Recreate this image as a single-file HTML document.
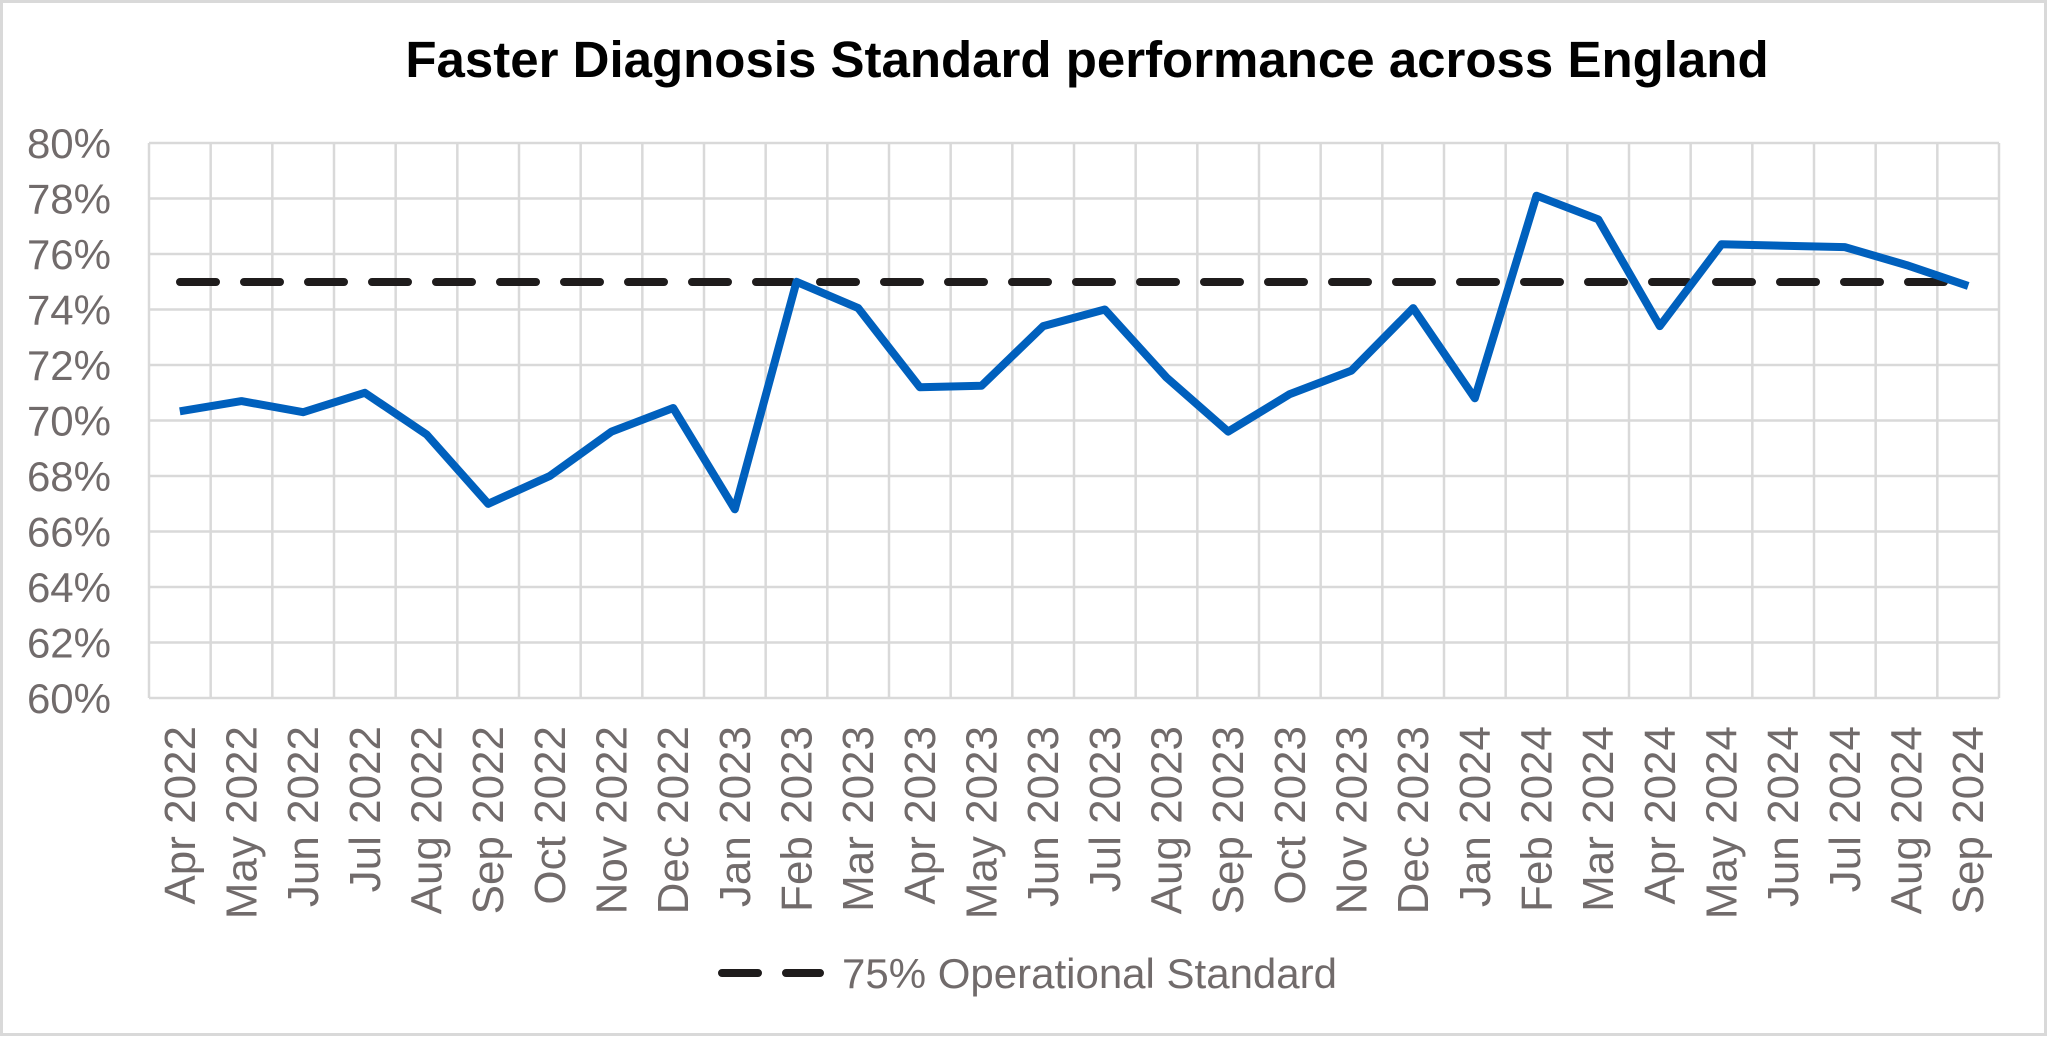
<!DOCTYPE html>
<html><head><meta charset="utf-8"><style>
html,body{margin:0;padding:0;background:#fff;}
svg{display:block;}
text{font-family:"Liberation Sans",Arial,sans-serif;}
</style></head><body>
<svg width="2048" height="1037" viewBox="0 0 2048 1037" xmlns="http://www.w3.org/2000/svg">
<rect x="1.5" y="1.5" width="2044" height="1033" fill="#fff" stroke="#d9d9d9" stroke-width="3"/>
<text x="1087" y="77" text-anchor="middle" font-size="51" font-weight="bold" fill="#000">Faster Diagnosis Standard performance across England</text>
<g id="grid" stroke="#d9d9d9" stroke-width="2.5" fill="none"></g>
<g id="ylab" font-size="42" fill="#716b6b" text-anchor="end"></g>
<g id="xlab" font-size="44" fill="#716b6b" text-anchor="end"></g>
<line x1="180" y1="282" x2="1968" y2="282" stroke="#1f1c1c" stroke-width="8" stroke-linecap="round" stroke-dasharray="36 28"/>
<polyline id="series" fill="none" stroke="#0060bd" stroke-width="8" stroke-linejoin="round"/>
<line x1="722" y1="973" x2="820" y2="973" stroke="#1f1c1c" stroke-width="8" stroke-linecap="round" stroke-dasharray="36 28"/>
<text x="842" y="988" font-size="42" fill="#716b6b">75% Operational Standard</text>
</svg>
<script>
const L=149,R=1999,T=143,B=698,N=30,cw=(R-L)/N,ns="http://www.w3.org/2000/svg";
function el(p,t,a,txt){const e=document.createElementNS(ns,t);for(const k in a)e.setAttribute(k,a[k]);if(txt)e.textContent=txt;document.getElementById(p).appendChild(e);}
for(let i=0;i<=10;i++){const y=T+i*(B-T)/10;el('grid','line',{x1:L,x2:R,y1:y,y2:y});el('ylab','text',{x:111,y:y+15},(80-2*i)+'%');}
for(let i=0;i<=N;i++){const x=L+i*cw;el('grid','line',{x1:x,x2:x,y1:T,y2:B});}
const m=['Apr','May','Jun','Jul','Aug','Sep','Oct','Nov','Dec','Jan','Feb','Mar'];
const v=[70.33,70.7,70.3,71.0,69.5,67.0,68.0,69.6,70.45,66.8,75.0,74.05,71.2,71.25,73.4,74.0,71.55,69.6,70.95,71.8,74.05,70.8,78.1,77.25,73.4,76.35,76.3,76.25,75.6,74.85];
let pts=[];
for(let i=0;i<N;i++){const x=L+(i+0.5)*cw;const yr=2022+Math.floor((i+3)/12);
el('xlab','text',{transform:`translate(${x+15},726) rotate(-90)`,x:0,y:0},m[i%12]+' '+yr);
pts.push(x.toFixed(1)+','+(T+(80-v[i])*(B-T)/20).toFixed(1));}
document.getElementById('series').setAttribute('points',pts.join(' '));
</script>
</body></html>
